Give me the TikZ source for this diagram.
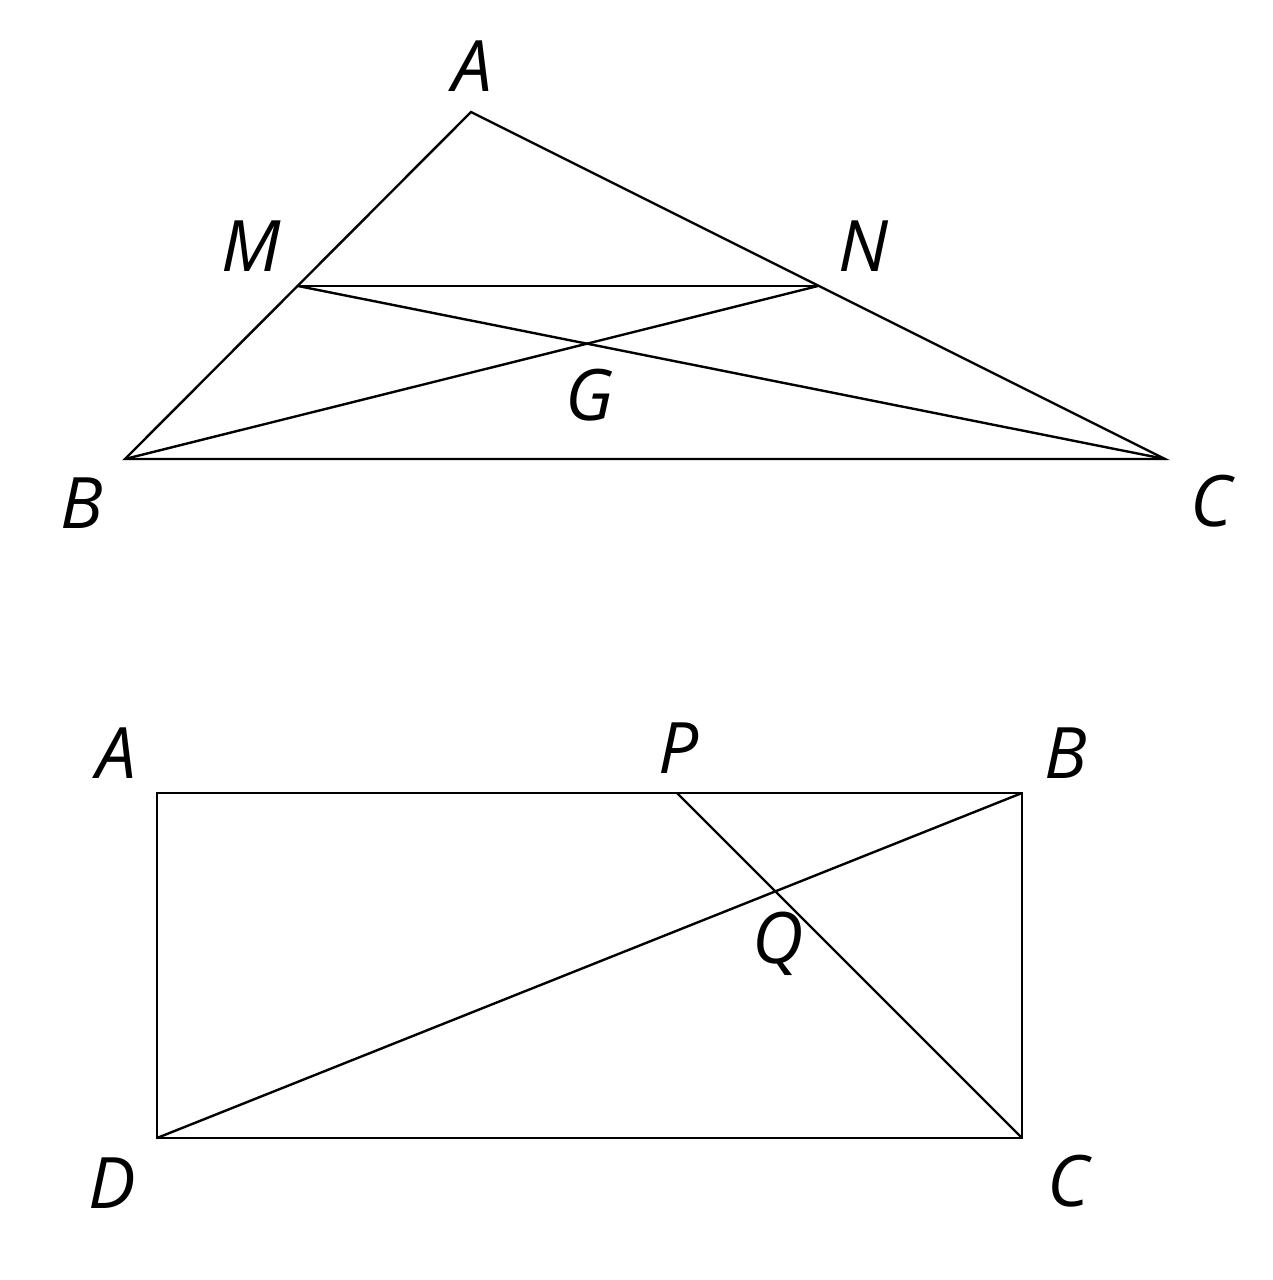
\documentclass[tikz,border=0pt]{standalone}
\usepackage{fontspec}
\setmainfont{Open Sans}
\begin{document}
\begin{tikzpicture}[x=1pt,y=-1pt,
  seg/.style={line width=2.4pt,line join=miter},
  lbl/.style={font=\fontsize{71}{71}\selectfont\itshape,inner sep=0pt,anchor=base}]
\useasboundingbox (0,0) rectangle (1272,1280);
% triangle
\coordinate (tA) at (471,112);
\coordinate (tB) at (125,459);
\coordinate (tC) at (1165,459);
\coordinate (tM) at (298,286);
\coordinate (tN) at (818,286);
\coordinate (tG) at (intersection of tM--tC and tN--tB);
\draw[seg] (tA) -- (tB) -- (tC) -- cycle;
\draw[seg] (tM) -- (tN);
\draw[seg] (tM) -- (tC);
\draw[seg] (tN) -- (tB);
\node[lbl] (lA) at (472,91) {A};
\node[lbl] (lM) at (251,271) {M};
\node[lbl] (lN) at (863,271) {N};
\node[lbl] (lG) at (590,420) {G};
\node[lbl] (lB) at (82,528) {B};
\node[lbl] (lC) at (1211,526) {C};
% rectangle
\coordinate (rA) at (157,793);
\coordinate (rB) at (1022,793);
\coordinate (rC) at (1022,1138);
\coordinate (rD) at (157,1138);
\coordinate (rP) at (677,793);
\coordinate (rQ) at (intersection of rP--rC and rD--rB);
\draw[seg] (rA) -- (rB) -- (rC) -- (rD) -- cycle;
\draw[seg] (rD) -- (rB);
\draw[seg] (rP) -- (rC);
\node[lbl] (qA) at (116,778) {A};
\node[lbl] (qP) at (679,773) {P};
\node[lbl] (qB) at (1066,778) {B};
\node[lbl] (qQ) at (778,963) {Q};
\node[lbl] (qD) at (112,1208) {D};
\node[lbl] (qC) at (1068,1206) {C};
\end{tikzpicture}
\end{document}
